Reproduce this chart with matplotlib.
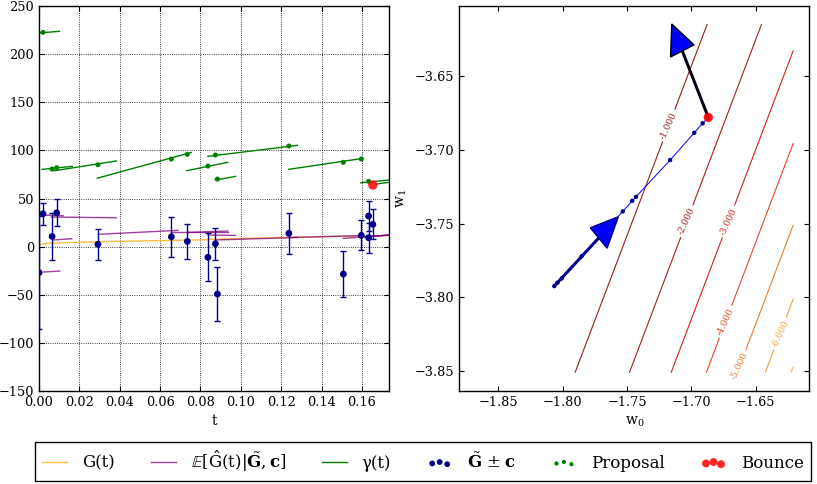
import numpy as np
import matplotlib
matplotlib.use('Agg')
import matplotlib.pyplot as plt

plt.rcParams['font.family'] = ['DejaVu Serif']
plt.rcParams['mathtext.fontset'] = 'dejavuserif'
plt.rcParams['xtick.direction'] = 'in'
plt.rcParams['ytick.direction'] = 'in'
plt.rcParams['xtick.top'] = True
plt.rcParams['ytick.right'] = True
plt.rcParams['xtick.labelsize'] = 9.3
plt.rcParams['ytick.labelsize'] = 9.3
plt.rcParams['axes.linewidth'] = 1.0

# observed gradients G~ with error c
t_obs = [0.0, 0.002, 0.0065, 0.0088, 0.0292, 0.0656, 0.0735, 0.0837, 0.0874, 0.0884,
         0.1238, 0.1508, 0.1597, 0.1633, 0.1633, 0.1654]
g_obs = [-27.0, 34.2, 10.7, 35.2, 2.4, 10.3, 5.5, -11.1, 3.0, -49.2,
         13.8, -28.5, 11.7, 31.8, 9.3, 23.1]
c_obs = [59.0, 11.5, 24.5, 14.0, 16.4, 21.0, 18.0, 25.0, 16.5, 28.0,
         21.0, 24.0, 15.7, 16.0, 15.7, 15.5]

# proposals
t_prop = [0.002, 0.0065, 0.0088, 0.0292, 0.0656, 0.0735, 0.0837, 0.0874, 0.0884,
          0.1238, 0.1508, 0.1597, 0.1633]
y_prop = [222.6, 80.6, 82.0, 85.1, 91.0, 95.9, 83.7, 95.2, 70.2,
          104.5, 87.6, 91.0, 67.8]

t_bounce = [0.1654]
y_bounce = [64.0]

# gamma(t) segments
gam_t0 = [0.0, 0.0015, 0.0078, 0.0289, 0.0732, 0.0837, 0.0874, 0.1237, 0.1594, 0.167]
gam_t1 = [0.0101, 0.0165, 0.0383, 0.0755, 0.0935, 0.128, 0.0974, 0.1605, 0.1734, 0.1734]
gam_y0 = [222.0, 80.3, 78.9, 71.1, 78.9, 93.8, 69.2, 80.3, 66.4, 65.0]
gam_y1 = [223.7, 83.4, 89.0, 97.9, 87.6, 105.2, 73.0, 91.7, 69.2, 66.8]

# E[G^(t)|G~,c] segments
pur_t0 = [0.0, 0.0003, 0.0061, 0.0069, 0.0292, 0.0656, 0.0735, 0.0837, 0.0874, 0.1238, 0.1508, 0.1597, 0.1633]
pur_t1 = [0.0103, 0.012, 0.0383, 0.0163, 0.0688, 0.0936, 0.0935, 0.0974, 0.128, 0.16, 0.1734, 0.1734, 0.1734]
pur_y0 = [-26.7, 32.8, 30.8, 6.9, 12.8, 15.5, 14.8, 12.0, 6.9, 9.5, 8.6, 10.0, 10.5]
pur_y1 = [-25.3, 32.1, 30.0, 8.2, 16.9, 15.5, 16.2, 11.7, 9.5, 11.5, 12.0, 12.0, 12.0]

# true G(t)
t_true = [0.0, 0.004, 0.02, 0.04, 0.06, 0.08, 0.10, 0.12, 0.14, 0.16, 0.1734]
g_true = [1.7, 3.5, 4.6, 5.5, 6.3, 7.0, 8.5, 9.5, 10.3, 11.0, 11.4]

# trajectory in parameter space
traj_w0 = [-1.8065, -1.8040, -1.8007, -1.7852, -1.7533, -1.7459, -1.7430, -1.7165, -1.6977, -1.6912, -1.6868]
traj_w1 = [-3.7923, -3.7900, -3.7871, -3.7720, -3.7417, -3.7345, -3.7318, -3.7069, -3.6884, -3.6820, -3.6780]
bounce_w = (-1.6868, -3.6780)
arrow_in = (-1.8065, -3.7923, 0.0498, 0.0470)
arrow_out = (-1.6868, -3.6780, -0.0284, 0.0633)

ridge_w0 = -1.8924
ridge_slope = 0.435
ridge_scale = 0.102
w1_base = -3.851
levels = [-7, -6, -5, -4, -3, -2, -1]
level_colors = ['#f2c440', '#f2a436', '#f07a34', '#e2482c', '#cc2424', '#aa1c1c', '#981e1e']
label_pos = [(-1.7142, -3.6852), (-1.7010, -3.7496), (-1.6691, -3.7496),
             (-1.6715, -3.8174), (-1.6635, -3.846), (-1.6311, -3.8244)]

fig = plt.figure(figsize=(8.17, 4.84), dpi=100)
ax1 = fig.add_axes([0.0477, 0.1921, 0.4284, 0.7955])
ax2 = fig.add_axes([0.5622, 0.1921, 0.4284, 0.7955])

# ---- left: gradients along t
ax1.plot(t_true, g_true, color='orange', alpha=0.75, lw=1, label='G(t)')
for i in range(len(pur_t0)):
    ax1.plot([pur_t0[i], pur_t1[i]], [pur_y0[i], pur_y1[i]], color='purple', alpha=0.75, lw=1,
             label=r'$\mathbb{E}[\hat{\mathrm{G}}(\mathrm{t})|\tilde{\mathbf{G}},\mathbf{c}]$' if i == 0 else None)
for i in range(len(gam_t0)):
    ax1.plot([gam_t0[i], gam_t1[i]], [gam_y0[i], gam_y1[i]], color='green', lw=1,
             label='γ(t)' if i == 0 else None)
ax1.errorbar(t_obs, g_obs, yerr=c_obs, fmt='none', ecolor='darkblue', elinewidth=1, capsize=2.5, zorder=3)
ax1.scatter(t_obs, g_obs, s=24, c='darkblue', edgecolors='none', zorder=4,
            label=r'$\tilde{\mathbf{G}}\,\pm\mathbf{c}$')
ax1.scatter(t_prop, y_prop, s=13, c='green', edgecolors='none', zorder=4, label='Proposal')
ax1.scatter(t_bounce, y_bounce, s=45, c='red', edgecolors='none', alpha=0.85, zorder=5, label='Bounce')
ax1.set_xlim(0, 0.1734)
ax1.set_ylim(-150, 250)
ax1.set_xticks(np.arange(0, 0.17, 0.02))
ax1.grid(True, linestyle=':', color='k', lw=0.6)
ax1.set_xlabel('t', fontsize=10)

# ---- right: contours and trajectory
w0g = np.linspace(-1.82, -1.6207, 150)
w1g = np.linspace(w1_base, -3.6147, 150)
W0, W1 = np.meshgrid(w0g, w1g)
F = -((W0 - ridge_w0 - ridge_slope * (W1 - w1_base)) / ridge_scale) ** 2
cs = ax2.contour(W0, W1, F, levels=levels, colors=level_colors, linewidths=0.8)
ax2.clabel(cs, fmt='%1.3f', fontsize=6.5, inline=True, manual=label_pos)

ax2.plot(traj_w0, traj_w1, '-', color='blue', lw=0.7, zorder=3)
ax2.scatter(traj_w0, traj_w1, s=10, c='darkblue', edgecolors='none', zorder=4)
ax2.arrow(*arrow_in, width=0.0012, head_width=0.019, head_length=0.021,
          length_includes_head=True, fc='blue', ec='navy', lw=1, zorder=5)
ax2.arrow(*arrow_out, width=0.0012, head_width=0.02, head_length=0.02,
          length_includes_head=True, fc='blue', ec='black', lw=1, zorder=5)
ax2.scatter([bounce_w[0]], [bounce_w[1]], s=45, c='red', edgecolors='none', alpha=0.9, zorder=6)
ax2.set_xlim(-1.8803, -1.6083)
ax2.set_ylim(-3.8634, -3.6025)
ax2.set_xticks([-1.85, -1.80, -1.75, -1.70, -1.65])
ax2.set_yticks([-3.85, -3.80, -3.75, -3.70, -3.65])
ax2.set_xlabel(r'$\mathrm{w}_0$', fontsize=10)
ax2.set_ylabel(r'$\mathrm{w}_1$', fontsize=10)

handles, labels = ax1.get_legend_handles_labels()
fig.legend(handles, labels, loc='center', bbox_to_anchor=(0.5177, 0.0469), ncol=6, fontsize=12,
           scatterpoints=3, markerscale=0.85, frameon=True, fancybox=False, edgecolor='k',
           framealpha=1, handlelength=1.5, handletextpad=0.9, columnspacing=2.15)

fig.savefig('out.png', dpi=100, facecolor='white')
